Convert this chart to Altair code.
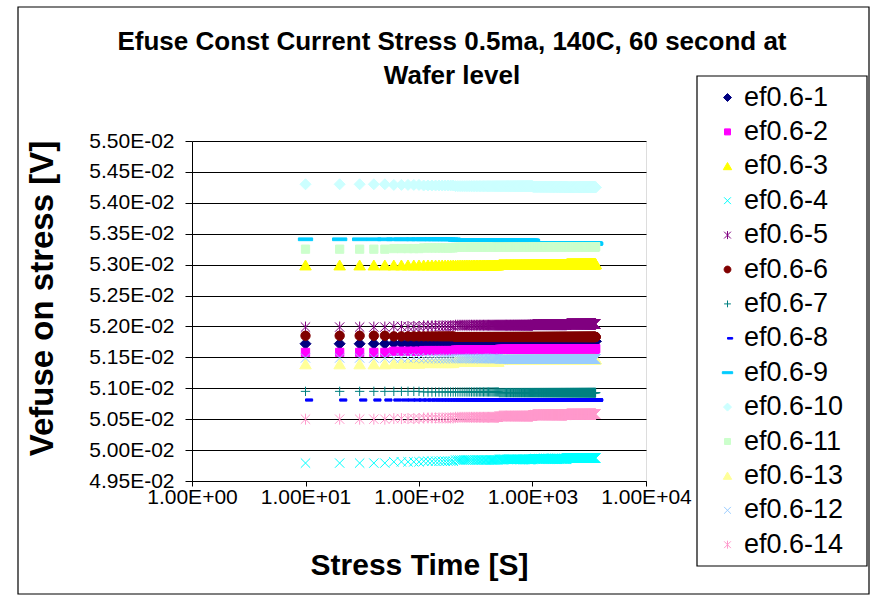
import altair as alt
import pandas as pd

FONT = "Liberation Sans"

SERIES = ["ef0.6-1", "ef0.6-2", "ef0.6-3", "ef0.6-4", "ef0.6-5", "ef0.6-6", "ef0.6-7",
          "ef0.6-8", "ef0.6-9", "ef0.6-10", "ef0.6-11", "ef0.6-13", "ef0.6-12", "ef0.6-14"]
COLORS = ["#000080", "#FF00FF", "#FFFF00", "#00FFFF", "#800080", "#800000", "#008080",
          "#0000FF", "#00CCFF", "#CCFFFF", "#CCFFCC", "#FFFF99", "#99CCFF", "#FF99CC"]

DIAMOND = "M0,-1L1,0L0,1L-1,0Z"
SQUARE = "M-0.75,-0.75H0.75V0.75H-0.75Z"
TRIANGLE = "M0,-0.95L1.05,0.85H-1.05Z"
XMARK = "M-0.85,-0.85L0.85,0.85M-0.85,0.85L0.85,-0.85"
STAR = "M-0.85,-0.85L0.85,0.85M-0.85,0.85L0.85,-0.85M0,-1L0,1"
CIRCLE = "M-0.85,0A0.85,0.85,0,1,1,0.85,0A0.85,0.85,0,1,1,-0.85,0Z"
PLUS = "M-0.85,0H0.85M0,-0.85V0.85"
SHORTDASH = "M0,-0.2H1.3V0.2H0Z"
LONGDASH = "M-1.3,-0.25H1.3V0.25H-1.3Z"
SHAPES = [DIAMOND, SQUARE, TRIANGLE, XMARK, STAR, CIRCLE, PLUS,
          SHORTDASH, LONGDASH, DIAMOND, SQUARE, TRIANGLE, XMARK, STAR]
STROKE_WIDTHS = [1, 1, 1, 2, 2, 1, 2, 1, 1, 1, 1, 1, 2, 2]

# stress-time sample groups (seconds): first, last, step
TIME_GROUPS = [(10, 50), (60, 100), (110, 200), (210, 500), (510, 1000), (1010, 2000), (2010, 3600)]
STEP = 10

# measured Vefuse [V] for each time group, per series
VALUES = {
    "ef0.6-1":  [0.05172, 0.05173, 0.05174, 0.05175, 0.05175, 0.05175, 0.05176],
    "ef0.6-2":  [0.05158, 0.05160, 0.05161, 0.05162, 0.05163, 0.05164, 0.05164],
    "ef0.6-3":  [0.05299, 0.05299, 0.05299, 0.05299, 0.05300, 0.05300, 0.05301],
    "ef0.6-4":  [0.04979, 0.04981, 0.04982, 0.04984, 0.04985, 0.04986, 0.04987],
    "ef0.6-5":  [0.05199, 0.05200, 0.05201, 0.05202, 0.05202, 0.05203, 0.05204],
    "ef0.6-6":  [0.05185, 0.05184, 0.05184, 0.05183, 0.05183, 0.05183, 0.05183],
    "ef0.6-7":  [0.05095, 0.05095, 0.05094, 0.05094, 0.05093, 0.05093, 0.05093],
    "ef0.6-8":  [0.05081, 0.05081, 0.05081, 0.05081, 0.05081, 0.05081, 0.05081],
    "ef0.6-9":  [0.05341, 0.05341, 0.05341, 0.05340, 0.05339, 0.05334, 0.05334],
    "ef0.6-10": [0.05430, 0.05429, 0.05428, 0.05427, 0.05427, 0.05426, 0.05425],
    "ef0.6-11": [0.05325, 0.05326, 0.05327, 0.05328, 0.05328, 0.05329, 0.05329],
    "ef0.6-13": [0.05139, 0.05140, 0.05141, 0.05143, 0.05146, 0.05147, 0.05147],
    "ef0.6-12": [0.05149, 0.05149, 0.05148, 0.05148, 0.05147, 0.05147, 0.05147],
    "ef0.6-14": [0.05050, 0.05051, 0.05052, 0.05053, 0.05055, 0.05057, 0.05058],
}

Y_TICKS = [0.0495, 0.0500, 0.0505, 0.0510, 0.0515, 0.0520, 0.0525, 0.0530,
           0.0535, 0.0540, 0.0545, 0.0550]
X_TICKS = [1, 10, 100, 1000, 10000]

TITLE = ["Efuse Const Current Stress 0.5ma, 140C, 60 second at", "Wafer level"]

rows = []
for s in SERIES:
    for (t0, t1), v in zip(TIME_GROUPS, VALUES[s]):
        for t in range(t0, t1 + 1, STEP):
            rows.append({"series": s, "time": t, "v": v})
df = pd.DataFrame(rows)

legend = alt.Legend(title=None, orient="none", legendX=522, legendY=-57,
                    labelFontSize=27, labelFont=FONT, labelColor="black",
                    symbolSize=64, symbolStrokeWidth=1.5, rowPadding=6.4,
                    labelOffset=3, padding=0, labelLimit=300)

points = alt.Chart(df).mark_point(filled=True, opacity=1, size=121).encode(
    x=alt.X("time:Q",
            scale=alt.Scale(type="log", domain=[1, 10000], nice=False),
            axis=alt.Axis(values=X_TICKS,
                          labelExpr="'1.00E+0' + format(log(datum.value)/LN10, '.0f')",
                          grid=False, domainColor="black", tickColor="black", tickSize=5,
                          labelFontSize=21, labelFont=FONT, labelColor="black",
                          labelPadding=0, labelFlush=False, labelOverlap=False,
                          title="Stress Time [S]", titleFontSize=30, titleFont=FONT,
                          titleFontWeight="bold", titleColor="black",
                          titleX=227, titleY=84, titleBaseline="middle")),
    y=alt.Y("v:Q",
            scale=alt.Scale(domain=[0.0495, 0.055], nice=False, zero=False),
            axis=alt.Axis(values=Y_TICKS,
                          labelExpr="format(datum.value*100, '.2f') + 'E-02'",
                          grid=True, gridColor="black", gridOpacity=1, gridWidth=1,
                          domainColor="black", tickColor="black", tickSize=7,
                          labelFontSize=21, labelFont=FONT, labelColor="black",
                          labelPadding=11, labelFlush=False, labelOverlap=False,
                          title="Vefuse on stress [V]", titleFontSize=33, titleFont=FONT,
                          titleFontWeight="bold", titleColor="black",
                          titleX=-150, titleY=157, titleAngle=270,
                          titleBaseline="middle", titleAlign="center")),
    fill=alt.Fill("series:N", scale=alt.Scale(domain=SERIES, range=COLORS), legend=legend),
    stroke=alt.Stroke("series:N", scale=alt.Scale(domain=SERIES, range=COLORS), legend=legend),
    shape=alt.Shape("series:N", scale=alt.Scale(domain=SERIES, range=SHAPES), legend=legend),
    strokeWidth=alt.StrokeWidth("series:N", scale=alt.Scale(domain=SERIES, range=STROKE_WIDTHS),
                                legend=None),
)

one = pd.DataFrame({"k": [0]})
frame = alt.Chart(one).mark_rect(fill="transparent", stroke="black", strokeWidth=1.2).encode(
    x=alt.value(18 - 192), x2=alt.value(869 - 192), y=alt.value(7 - 141), y2=alt.value(594 - 141))
legend_box = alt.Chart(one).mark_rect(fill="transparent", stroke="black", strokeWidth=1.2).encode(
    x=alt.value(697 - 192), x2=alt.value(867 - 192), y=alt.value(76 - 141), y2=alt.value(566 - 141))

chart = alt.layer(frame, legend_box, points).properties(
    width=454, height=340,
    padding={"left": 192, "top": 141, "right": 228, "bottom": 114},
    autosize=alt.AutoSizeParams(type="none"),
    title=alt.TitleParams(text=TITLE, fontSize=26, font=FONT, fontWeight="bold", color="black",
                          anchor="middle", frame="group", dx=33, offset=0, dy=83, lineHeight=34),
).configure_view(stroke="transparent").configure(background="white")

chart.save("out.html", embed_options={"renderer": "svg", "actions": False})
